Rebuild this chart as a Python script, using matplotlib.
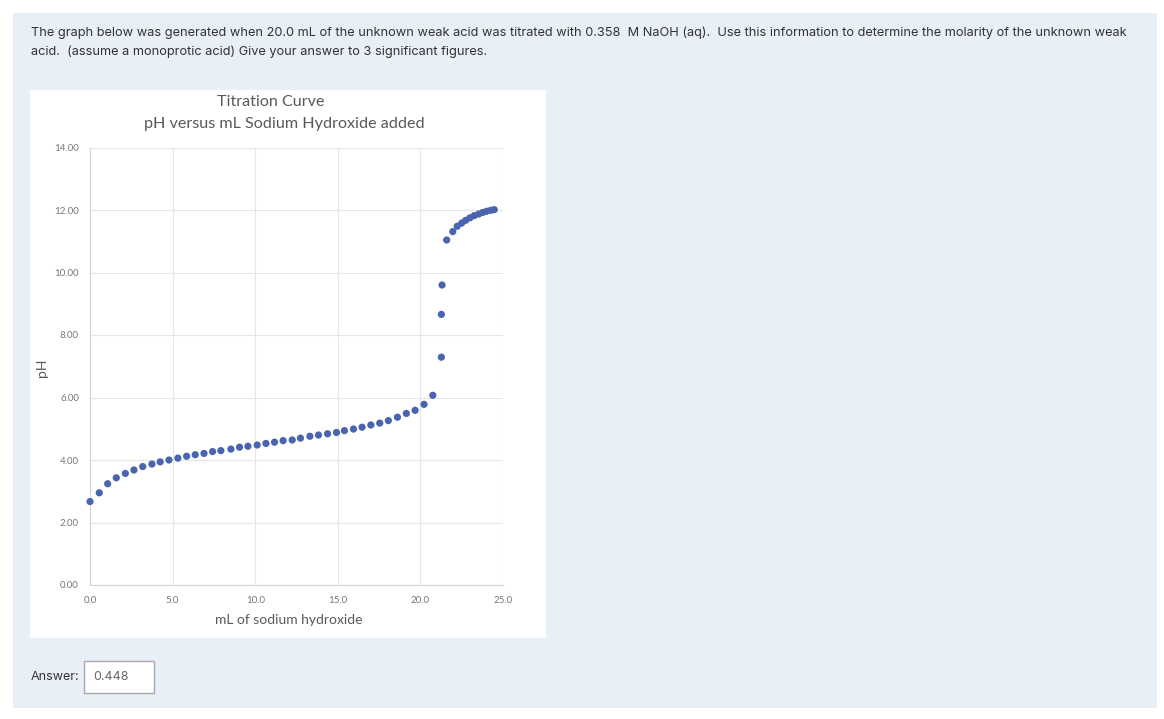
import matplotlib
matplotlib.use('Agg')
import matplotlib.pyplot as plt
from matplotlib.patches import Rectangle

# data
naoh_ml = [0.00, 0.56, 1.07, 1.59, 2.14, 2.66, 3.19, 3.75, 4.25, 4.78,
           5.32, 5.85, 6.37, 6.90, 7.42, 7.92, 8.53, 9.05, 9.56, 10.12,
           10.65, 11.17, 11.69, 12.24, 12.74, 13.31, 13.83, 14.38, 14.92, 15.40,
           15.95, 16.47, 17.00, 17.54, 18.06, 18.61, 19.15, 19.68, 20.22, 20.75,
           21.27, 21.27, 21.31, 21.59, 21.96, 22.23, 22.50, 22.74, 23.00, 23.26,
           23.53, 23.77, 24.01, 24.26, 24.47]
ph = [2.67, 2.95, 3.24, 3.43, 3.57, 3.68, 3.79, 3.87, 3.94, 4.00,
      4.06, 4.12, 4.17, 4.21, 4.27, 4.30, 4.35, 4.41, 4.44, 4.48,
      4.53, 4.57, 4.62, 4.64, 4.70, 4.76, 4.80, 4.84, 4.88, 4.94,
      4.99, 5.05, 5.12, 5.18, 5.26, 5.37, 5.49, 5.59, 5.78, 6.07,
      7.29, 8.66, 9.60, 11.04, 11.31, 11.48, 11.58, 11.67, 11.75, 11.82,
      11.87, 11.92, 11.96, 11.99, 12.01]

x_ticks = [0, 5, 10, 15, 20, 25]
y_ticks = [0, 2, 4, 6, 8, 10, 12, 14]

question = ['The graph below was generated when 20.0 mL of the unknown weak acid was titrated with 0.358  M NaOH (aq).  Use this information to determine the molarity of the unknown weak',
            'acid.  (assume a monoprotic acid) Give your answer to 3 significant figures.']
answer = '0.448'

W, H = 1164, 719
fig = plt.figure(figsize=(W / 100, H / 100), dpi=100)
fig.patch.set_facecolor('white')

# page background in pixel coordinates
bg = fig.add_axes([0, 0, 1, 1])
bg.set_xlim(0, W)
bg.set_ylim(H, 0)
bg.axis('off')
bg.add_patch(Rectangle((13, 13), 1144, 695, facecolor='#e9eff7', edgecolor='none'))
bg.add_patch(Rectangle((30, 90), 516, 548, facecolor='white', edgecolor='none'))
bg.text(31, 33, question[0], fontsize=9.2, family='Inter', color='#333333', va='center')
bg.text(31, 52, question[1], fontsize=9.2, family='Inter', color='#333333', va='center')
bg.text(31, 677, 'Answer:', fontsize=9, family='Inter', color='#333333', va='center')
bg.add_patch(Rectangle((84, 661), 70, 32, facecolor='white', edgecolor='#a8a8a8', lw=1))
bg.text(93, 677, answer, fontsize=9, family='Inter', color='#666666', va='center')

# chart titles and axis label
bg.text(271, 102, 'Titration Curve', fontsize=11.6, family='Lato', color='#595959', ha='center', va='center')
bg.text(284, 124, 'pH versus mL Sodium Hydroxide added', fontsize=11.6, family='Lato', color='#595959', ha='center', va='center')
bg.text(289, 620, 'mL of sodium hydroxide', fontsize=10, family='Lato', color='#595959', ha='center', va='center')
bg.text(42, 368, 'pH', fontsize=10, family='Lato', color='#595959', ha='center', va='center', rotation=90)

# plot area
x0, x1, y0, y1 = 90, 503, 147.5, 585
ax = fig.add_axes([x0 / W, 1 - y1 / H, (x1 - x0) / W, (y1 - y0) / H])
ax.set_facecolor('white')
ax.scatter(naoh_ml, ph, s=27, color='#4a64b0', edgecolors='none', zorder=3, clip_on=False)
ax.set_xlim(0, 25)
ax.set_ylim(0, 14)
ax.set_xticks(x_ticks)
ax.set_xticklabels(['%.1f' % v for v in x_ticks])
ax.set_yticks(y_ticks)
ax.set_yticklabels(['%.2f' % v for v in y_ticks])
ax.grid(True, color='#e6e6e6', lw=0.8)
ax.set_axisbelow(True)
for s in ['top', 'right']:
    ax.spines[s].set_visible(False)
for s in ['left', 'bottom']:
    ax.spines[s].set_color('#d4d4d4')
ax.tick_params(length=0, labelsize=7, labelcolor='#777777')
ax.tick_params(axis='y', pad=8)
ax.tick_params(axis='x', pad=8)
for lbl in ax.get_xticklabels() + ax.get_yticklabels():
    lbl.set_family('Lato')

fig.savefig('out.png', dpi=100)
